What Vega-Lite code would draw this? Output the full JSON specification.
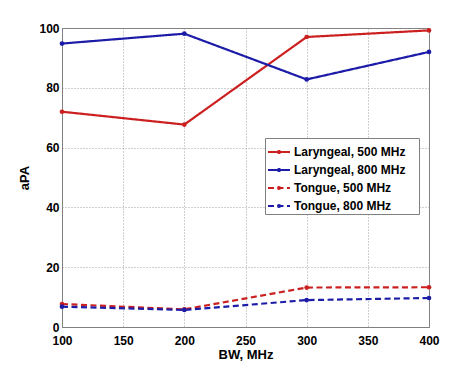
{
  "$schema": "https://vega.github.io/schema/vega-lite/v6.json",
  "width": 367,
  "height": 299,
  "autosize": {"type": "none"},
  "padding": {"left": 62, "top": 28, "right": 45, "bottom": 40},
  "background": "white",
  "config": {
    "view": {"stroke": "#808080", "strokeWidth": 1},
    "font": "Liberation Sans",
    "axis": {
      "labelFont": "Liberation Sans",
      "labelFontWeight": "bold",
      "labelFontSize": 12,
      "labelColor": "#000000",
      "labelFlush": false,
      "titleFont": "Liberation Sans",
      "titleFontWeight": "bold",
      "titleFontSize": 13,
      "titleColor": "#000000",
      "domainColor": "#808080",
      "gridColor": "#8a8a8a",
      "gridDash": [1, 2],
      "gridOpacity": 0.8,
      "ticks": false
    }
  },
  "data": {
    "values": [
      {"bw": 100, "aPA": 72, "series": "Laryngeal, 500 MHz"},
      {"bw": 200, "aPA": 67.7, "series": "Laryngeal, 500 MHz"},
      {"bw": 300, "aPA": 97, "series": "Laryngeal, 500 MHz"},
      {"bw": 400, "aPA": 99.2, "series": "Laryngeal, 500 MHz"},
      {"bw": 100, "aPA": 94.8, "series": "Laryngeal, 800 MHz"},
      {"bw": 200, "aPA": 98.1, "series": "Laryngeal, 800 MHz"},
      {"bw": 300, "aPA": 82.8, "series": "Laryngeal, 800 MHz"},
      {"bw": 400, "aPA": 92, "series": "Laryngeal, 800 MHz"},
      {"bw": 100, "aPA": 7.7, "series": "Tongue, 500 MHz"},
      {"bw": 200, "aPA": 5.9, "series": "Tongue, 500 MHz"},
      {"bw": 300, "aPA": 13.2, "series": "Tongue, 500 MHz"},
      {"bw": 400, "aPA": 13.3, "series": "Tongue, 500 MHz"},
      {"bw": 100, "aPA": 6.8, "series": "Tongue, 800 MHz"},
      {"bw": 200, "aPA": 5.7, "series": "Tongue, 800 MHz"},
      {"bw": 300, "aPA": 9.0, "series": "Tongue, 800 MHz"},
      {"bw": 400, "aPA": 9.7, "series": "Tongue, 800 MHz"}
    ]
  },
  "mark": {"type": "line", "strokeWidth": 2.2, "point": {"filled": true, "size": 22}},
  "encoding": {
    "x": {
      "field": "bw", "type": "quantitative", "title": "BW, MHz",
      "scale": {"domain": [100, 400], "nice": false},
      "axis": {"values": [100, 150, 200, 250, 300, 350, 400], "labelPadding": 8, "titlePadding": 2}
    },
    "y": {
      "field": "aPA", "type": "quantitative", "title": "aPA",
      "scale": {"domain": [0, 100], "nice": false},
      "axis": {"values": [0, 20, 40, 60, 80, 100], "labelPadding": 3, "titlePadding": 7}
    },
    "color": {
      "field": "series", "type": "nominal",
      "scale": {
        "domain": ["Laryngeal, 500 MHz", "Laryngeal, 800 MHz", "Tongue, 500 MHz", "Tongue, 800 MHz"],
        "range": ["#cc2020", "#1c1ca8", "#cc2020", "#1c1ca8"]
      },
      "legend": {
        "title": "\u00a0",
        "titleOrient": "right",
        "titlePadding": 12,
        "titleFontSize": 4,
        "orient": "none",
        "legendX": 203,
        "legendY": 110,
        "fillColor": "white",
        "strokeColor": "#808080",
        "padding": 2,
        "labelFont": "Liberation Sans",
        "labelFontWeight": "bold",
        "labelFontSize": 12,
        "labelColor": "#000000",
        "symbolType": "M-1,0H1M-0.1,0A0.1,0.1,0,1,1,0.1,0A0.1,0.1,0,1,1,-0.1,0",
        "symbolStrokeWidth": 2,
        "symbolSize": 484,
        "rowPadding": -2,
        "labelOffset": 3
      }
    },
    "strokeDash": {
      "field": "series", "type": "nominal",
      "scale": {
        "domain": ["Laryngeal, 500 MHz", "Laryngeal, 800 MHz", "Tongue, 500 MHz", "Tongue, 800 MHz"],
        "range": [[1, 0], [1, 0], [6, 3.5], [6, 3.5]]
      }
    }
  }
}
